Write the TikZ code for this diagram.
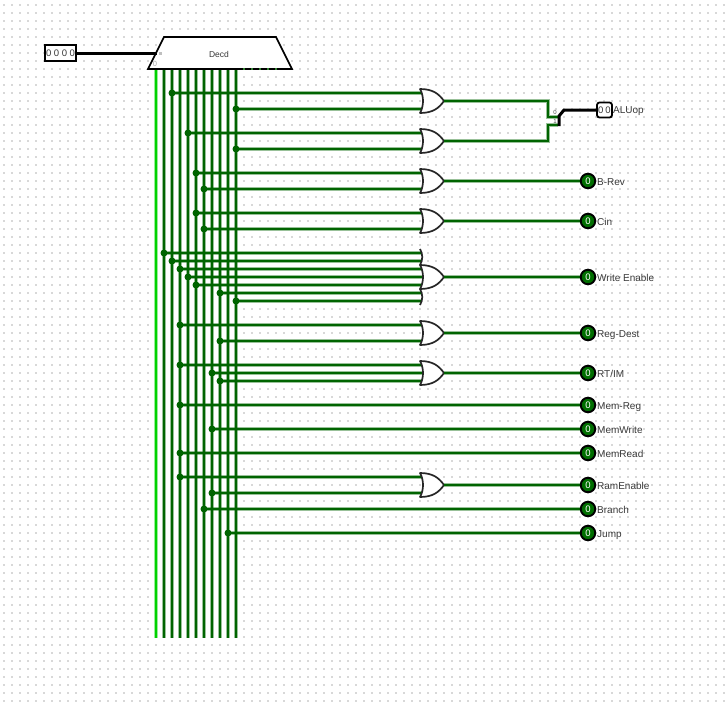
\documentclass[tikz,border=0pt]{standalone}
\usepackage{fontspec}
\setmainfont{Liberation Sans}
\definecolor{wiregreen}{HTML}{006400}
\definecolor{wirebright}{HTML}{00D200}
\definecolor{griddot}{HTML}{D8D8D8}
\definecolor{labelgrey}{HTML}{383838}
\definecolor{pingreen}{HTML}{006E00}
\tikzset{
  wire/.style={draw=wiregreen,line width=2.2pt,preaction={draw=wiregreen,draw opacity=.4,line width=3.7pt}},
  brightwire/.style={draw=wirebright,line width=2.2pt,preaction={draw=wirebright,draw opacity=.4,line width=3.7pt}},
  bus/.style={draw=black,line width=3pt},
  junction/.style={circle,fill=wiregreen,inner sep=0pt,minimum size=7pt},
  gateline/.style={draw=black!85,line width=1.7pt,line join=round},
  pinout/.style={circle,draw=black,line width=1.9pt,fill=pingreen,minimum size=14.5pt,inner sep=0pt,text=white,font=\fontsize{9.5}{9.5}\selectfont},
  pinlabel/.style={anchor=base west,inner sep=0pt,text=labelgrey,font=\fontsize{10}{10}\selectfont},
  tinylabel/.style={inner sep=0pt,font=\fontsize{6}{6}\selectfont,text=black!70},
  pinbox/.style={draw=black,line width=1.8pt,fill=white,inner sep=0pt,text=labelgrey,font=\fontsize{9.5}{9.5}\selectfont},
  gridrow/.style={draw=griddot,line width=1.2pt,dash pattern=on 1.2pt off 6.8pt},
}
% OR gate: name, centre y
\newcommand{\orgate}[2]{%
  \coordinate (#1) at (432,#2);
  \coordinate (#1out) at (444,#2);
  \draw[gateline,fill=white] (420,#2-12) .. controls (433,#2-12) and (439,#2-7) .. (444,#2)
     .. controls (439,#2+7) and (433,#2+12) .. (420,#2+12)
     .. controls (424,#2+5) and (424,#2-5) .. (420,#2-12) -- cycle;
}
% tap: name, bus x, y, end x
\newcommand{\tap}[4]{%
  \node[junction] (#1) at (#2,#3) {};
  \coordinate (#1end) at (#4,#3);
  \draw[wire] (#1.center) -- (#1end);
}
\newcommand{\outpin}[3]{%
  \node[pinout] (#1) at (588,#2) {0};
  \node[pinlabel] (#1label) at (597,#2+4.7) {#3};
}
\begin{document}
\begin{tikzpicture}[x=1pt,y=-1pt]
\useasboundingbox (0,0) rectangle (726,705);
\foreach \j in {0,...,87} {
  \draw[gridrow] (3.4,5+8*\j) -- (726,5+8*\j);
}

% vertical bus wires from the decoder
\foreach \n/\x in {b/164,c/172,d/180,e/188,f/196,g/204,h/212,i/220,j/228,k/236} {
  \coordinate (top\n) at (\x,69);
  \coordinate (bot\n) at (\x,638);
  \draw[wire] (top\n) -- (bot\n);
}
\coordinate (topa) at (156,69);
\coordinate (bota) at (156,638);
\draw[brightwire] (topa) -- (bota);

% taps to gates
\tap{t93}{172}{93}{422}
\tap{t109}{236}{109}{422}
\tap{t133}{188}{133}{422}
\tap{t149}{236}{149}{422}
\tap{t173}{196}{173}{422}
\tap{t189}{204}{189}{422}
\tap{t213}{196}{213}{422}
\tap{t229}{204}{229}{422}
\tap{t253}{164}{253}{421}
\tap{t261}{172}{261}{421}
\tap{t269}{180}{269}{422}
\tap{t277}{188}{277}{423}
\tap{t285}{196}{285}{422}
\tap{t293}{220}{293}{421}
\tap{t301}{236}{301}{421}
\tap{t325}{180}{325}{422}
\tap{t341}{220}{341}{422}
\tap{t365}{180}{365}{422}
\tap{t373}{212}{373}{423}
\tap{t381}{220}{381}{422}
\tap{t477}{180}{477}{422}
\tap{t493}{212}{493}{422}

% wire ends just behind the output pins
\foreach \n/\y in {brev/181,cin/221,we/277,regdest/333,rtim/373,memreg/405,memwrite/429,memread/453,ram/485,branch/509,jump/533} {
  \coordinate (\n wire) at (582,\y);
}
\orgate{g1}{101}
\orgate{g2}{141}
\orgate{g3}{181}
\orgate{g4}{221}
\orgate{g5}{277}
\orgate{g6}{333}
\orgate{g7}{373}
\orgate{g8}{485}
\draw[gateline] (420,249) .. controls (423,254) and (423,260) .. (420,265);
\draw[gateline] (420,289) .. controls (423,294) and (423,300) .. (420,305);

\draw[wire] (g3out) -- (brevwire);
\draw[wire] (g4out) -- (cinwire);
\draw[wire] (g5out) -- (wewire);
\draw[wire] (g6out) -- (regdestwire);
\draw[wire] (g7out) -- (rtimwire);
\draw[wire] (g8out) -- (ramwire);

% direct taps to pins
\node[junction] (t405) at (180,405) {};
\node[junction] (t429) at (212,429) {};
\node[junction] (t453) at (180,453) {};
\node[junction] (t509) at (204,509) {};
\node[junction] (t533) at (228,533) {};
\draw[wire] (t405.center) -- (memregwire);
\draw[wire] (t429.center) -- (memwritewire);
\draw[wire] (t453.center) -- (memreadwire);
\draw[wire] (t509.center) -- (branchwire);
\draw[wire] (t533.center) -- (jumpwire);

% output pins
\outpin{brev}{181}{B-Rev}
\outpin{cin}{221}{Cin}
\outpin{we}{277}{Write Enable}
\outpin{regdest}{333}{Reg-Dest}
\outpin{rtim}{373}{RT/IM}
\outpin{memreg}{405}{Mem-Reg}
\outpin{memwrite}{429}{MemWrite}
\outpin{memread}{453}{MemRead}
\outpin{ram}{485}{RamEnable}
\outpin{branch}{509}{Branch}
\outpin{jump}{533}{Jump}

% ALUop splitter and output
\coordinate (s0) at (558,117);
\coordinate (s1) at (558,125);
\coordinate (sfan) at (564,110);
\node[pinbox,rounded corners=2.5pt,minimum width=15pt,minimum height=15pt] (aluop) at (604.5,110) {0\hspace{2pt}0};
\node[pinlabel] (aluoplabel) at (613,113.7) {ALUop};
\draw[wire] (g1out) -| (s0 -| 548,0) |- (s0);
\draw[wire] (g2out) -| (s1 -| 548,0) |- (s1);
\draw[bus] (559,126) -- (559,116) -- (sfan) -- (aluop);
\node[tinylabel] (s0label) at (555,112.5) {0};
\node[tinylabel] (s1label) at (555,121) {1};

% input pin and decoder
\node[pinbox,minimum width=31pt,minimum height=15.5pt] (input) at (60.5,53) {0\hspace{2.6pt}0\hspace{2.6pt}0\hspace{2.6pt}0};
\coordinate (decin) at (157,53);
\draw[draw=black,line width=1.6pt,fill=white,line join=miter] (164,37) -- (276,37) -- (292,69) -- (148,69) -- cycle;
\draw[bus] (input) -- (decin);
\node[inner sep=0pt,text=labelgrey,font=\fontsize{8.5}{8.5}\selectfont] (decd) at (219,54.5) {Decd};
\fill[black!25] (158.5,51.5) rectangle ++(3.5,3.5);
\node[tinylabel,font=\fontsize{7.5}{7.5}\selectfont,text=black!35] (zero) at (155,63.5) {0};
\foreach \x in {244,252,260,268,276} { \fill[wiregreen!80] (\x-0.8,68) rectangle ++(1.6,1.6); }
\end{tikzpicture}
\end{document}
